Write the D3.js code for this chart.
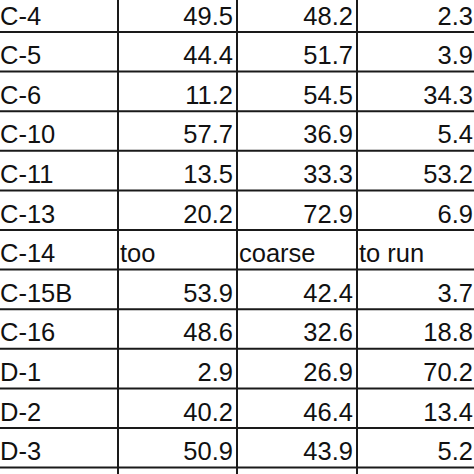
<!DOCTYPE html><html><head><script src="https://cdn.jsdelivr.net/npm/d3@7"></script>
<style>body{margin:0;background:#fff}</style></head><body><svg id="c" width="474" height="474"></svg><script>
const categories=["C-4","C-5","C-6","C-10","C-11","C-13","C-14","C-15B","C-16","D-1","D-2","D-3"];
const col1=["49.5","44.4","11.2","57.7","13.5","20.2","too","53.9","48.6","2.9","40.2","50.9"];
const col2=["48.2","51.7","54.5","36.9","33.3","72.9","coarse","42.4","32.6","26.9","46.4","43.9"];
const col3=["2.3","3.9","34.3","5.4","53.2","6.9","to run","3.7","18.8","70.2","13.4","5.2"];
const svg=d3.select("#c");
const y=d3.scaleBand().domain(d3.range(categories.length)).range([-7.6,467.6]);
const xs=[118,237,357,477];
const g=svg.append("g").attr("stroke","#1a1a1a").attr("stroke-width",2);
d3.range(categories.length).forEach(i=>g.append("line").attr("x1",0).attr("x2",474).attr("y1",y(i)+y.bandwidth()).attr("y2",y(i)+y.bandwidth()));
xs.slice(0,3).forEach(x=>g.append("line").attr("x1",x).attr("x2",x).attr("y1",0).attr("y2",474));
const t=svg.append("g").attr("font-family","Liberation Sans, Arial, sans-serif").attr("font-size",25.5).attr("fill","#111");
categories.forEach((c,i)=>{
 const by=y(i)+y.bandwidth()-7.5;
 t.append("text").attr("x",0).attr("y",by).text(c);
 [col1,col2,col3].forEach((col,j)=>{
  const v=col[i]; const txt=isNaN(+v);
  t.append("text").attr("x",txt?xs[j]+2:xs[j+1]-4).attr("y",by).attr("text-anchor",txt?"start":"end").text(v);
 });
});
</script></body></html>
